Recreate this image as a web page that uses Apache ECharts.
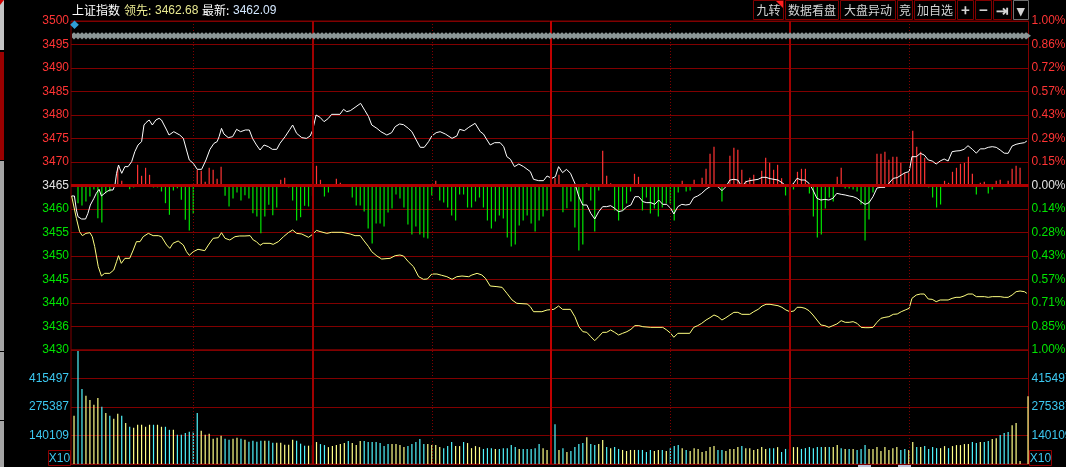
<!DOCTYPE html>
<html>
<head>
<meta charset="utf-8">
<title>上证指数 分时</title>
<script src="https://cdn.jsdelivr.net/npm/echarts@6/dist/echarts.min.js"></script>
<style>
  html, body { margin: 0; padding: 0; background: #000; }
  #chart { width: 1066px; height: 467px; }
</style>
</head>
<body>
<div id="chart"></div>
<script>
// ---- data ----
const indexName = '上证指数';
const leadPrice = '3462.68';
const lastPrice = '3462.09';
const baseLevel = 3465;
const priceMin = 3430, priceMax = 3500, priceStep = 5;
const priceTicks = ['3500', '3495', '3490', '3485', '3480', '3475', '3470', '3465', '3460', '3455', '3450', '3445', '3440', '3436', '3430'];
const pctTicks = ['1.00%', '0.86%', '0.72%', '0.57%', '0.43%', '0.29%', '0.15%', '0.00%', '0.14%', '0.28%', '0.43%', '0.57%', '0.71%', '0.85%', '1.00%'];
const volMax = 560.436, volStep = 140.109; // thousands
const volTicks = ['', '140109', '275387', '415497', ''];
const hourMarks = [60, 120, 180];
const halfHourMarks = [30, 90, 150, 210];

// white line: [minute, price]
const indexLine = [[-0.6,3462.77],[0.1,3462.77],[0.6,3459.79],[1.0,3458.37],[1.9,3457.87],[2.9,3457.87],[3.5,3459.08],[4.1,3460.85],[5.0,3462.27],[5.6,3463.33],[6.3,3464.19],[6.9,3462.77],[7.3,3462.48],[8.2,3463.69],[9.0,3464.04],[9.8,3464.04],[10.3,3465.11],[10.7,3467.59],[11.2,3469.36],[11.5,3468.65],[12.0,3467.59],[12.8,3469.01],[13.6,3469.01],[14.5,3470.07],[15.3,3472.2],[16.1,3473.62],[17.0,3474.33],[17.6,3477.87],[18.1,3478.37],[18.9,3478.94],[19.7,3477.87],[20.6,3478.94],[21.4,3479.29],[22.0,3478.94],[23.3,3476.81],[23.9,3475.74],[25.1,3476.45],[26.6,3475.74],[27.5,3475.03],[28.3,3472.55],[29.0,3470.43],[30.0,3469.72],[31.0,3468.44],[32.1,3468.44],[33.2,3470.43],[34.2,3472.69],[35.2,3473.96],[36.0,3474.33],[36.5,3475.39],[37.1,3477.16],[37.7,3475.96],[38.8,3475.18],[39.9,3475.39],[40.9,3476.95],[41.9,3476.45],[43.1,3476.81],[44.1,3476.81],[44.9,3475.03],[45.9,3473.62],[46.8,3472.55],[47.8,3473.62],[48.9,3473.26],[49.9,3472.69],[51.0,3472.69],[51.8,3473.96],[53.1,3475.39],[54.3,3476.95],[55.0,3477.87],[56.0,3476.1],[57.3,3475.18],[58.5,3475.03],[59.4,3475.53],[60.0,3476.67],[60.9,3480.0],[61.9,3479.5],[62.9,3478.58],[64.0,3479.29],[64.8,3480.14],[66.9,3480.14],[67.8,3481.21],[68.6,3480.71],[69.5,3480.92],[70.7,3481.63],[72.1,3482.48],[73.2,3480.92],[74.1,3479.64],[74.9,3477.87],[76.2,3477.16],[77.2,3476.45],[78.7,3475.74],[79.9,3476.24],[80.8,3477.52],[81.9,3478.09],[82.9,3477.94],[84.1,3477.16],[85.0,3476.45],[86.1,3474.68],[87.1,3473.12],[88.1,3473.12],[89.2,3474.33],[90.0,3475.53],[91.1,3476.24],[92.1,3476.45],[93.4,3475.96],[95.1,3475.03],[96.3,3475.53],[97.0,3476.95],[98.2,3476.67],[99.3,3477.38],[100.9,3478.23],[102.2,3476.45],[103.0,3475.96],[103.9,3474.68],[104.7,3473.62],[105.8,3474.11],[107.2,3474.11],[108.1,3473.26],[108.9,3471.13],[109.8,3470.57],[110.8,3469.01],[111.9,3469.57],[113.1,3469.01],[114.8,3467.95],[115.6,3466.31],[116.9,3466.03],[118.1,3466.03],[119.0,3467.02],[120.2,3466.53],[121.1,3466.88],[121.9,3469.01],[122.9,3467.73],[123.9,3468.44],[124.9,3467.59],[126.0,3465.46],[127.0,3462.62],[128.0,3460.85],[129.0,3460.85],[130.0,3459.08],[131.0,3457.87],[132.0,3459.43],[133.0,3460.5],[134.0,3460.5],[135.0,3460.71],[136.0,3460.14],[137.0,3459.43],[138.0,3459.64],[139.1,3460.5],[140.1,3460.85],[141.1,3462.62],[142.1,3462.62],[143.1,3461.56],[144.1,3461.35],[145.1,3461.35],[146.1,3460.99],[147.1,3461.91],[148.1,3460.99],[149.1,3460.99],[150.1,3460.14],[150.9,3458.94],[151.9,3460.5],[152.9,3460.99],[153.9,3460.85],[154.9,3460.99],[155.9,3462.41],[156.9,3462.77],[157.9,3463.33],[159.0,3464.19],[160.0,3464.75],[161.0,3464.89],[162.0,3464.75],[163.0,3463.9],[164.0,3464.75],[165.0,3466.17],[166.0,3466.31],[167.0,3466.17],[168.0,3464.75],[169.0,3465.81],[170.0,3466.03],[171.0,3466.17],[172.1,3466.31],[173.1,3466.74],[174.1,3466.74],[175.1,3466.45],[176.1,3466.31],[177.1,3466.17],[178.1,3465.6],[179.1,3464.96],[180.1,3464.96],[180.9,3465.32],[181.9,3466.53],[182.9,3466.17],[183.9,3466.17],[184.9,3465.46],[185.9,3464.04],[186.9,3462.27],[187.9,3461.91],[188.9,3462.05],[189.9,3461.91],[190.9,3462.27],[191.9,3463.33],[193.0,3463.12],[194.0,3462.98],[195.0,3462.77],[196.0,3462.62],[197.0,3462.27],[198.0,3461.56],[199.0,3460.99],[200.0,3461.35],[201.0,3462.62],[202.0,3464.47],[203.0,3464.61],[204.0,3464.61],[205.0,3465.46],[206.1,3466.53],[207.1,3466.67],[208.1,3467.23],[209.1,3467.73],[210.1,3467.95],[210.8,3471.13],[211.9,3471.13],[212.9,3471.84],[213.9,3471.49],[214.9,3470.43],[215.9,3470.21],[216.9,3469.57],[217.9,3470.21],[218.9,3470.64],[219.9,3470.21],[220.9,3472.2],[221.9,3472.34],[222.9,3472.41],[223.9,3472.69],[224.9,3473.47],[226.0,3472.69],[227.0,3471.88],[228.0,3472.8],[229.0,3472.8],[230.0,3473.12],[231.0,3473.26],[232.0,3473.12],[233.0,3472.55],[234.0,3471.88],[235.0,3471.84],[236.0,3473.4],[237.0,3473.76],[238.0,3473.96],[239.1,3474.11],[239.7,3474.47]];

// yellow line: [minute, price]
const leadLine = [[-0.6,3462.77],[0.6,3458.01],[1.4,3455.18],[2.1,3454.33],[3.0,3454.82],[4.0,3454.96],[4.6,3454.11],[5.2,3451.99],[6.1,3447.73],[6.9,3445.74],[7.7,3446.31],[9.0,3446.31],[10.0,3447.02],[10.7,3448.79],[11.2,3450.07],[11.9,3448.44],[12.8,3449.5],[14.0,3449.5],[14.9,3451.28],[15.7,3453.05],[16.6,3453.05],[17.4,3454.11],[18.7,3454.82],[19.9,3454.33],[21.2,3454.33],[22.0,3454.11],[23.3,3452.34],[24.1,3451.63],[24.9,3452.7],[26.2,3453.19],[27.5,3452.34],[28.3,3450.92],[29.0,3450.14],[30.0,3450.92],[31.2,3451.42],[32.9,3451.14],[33.8,3452.34],[35.0,3453.76],[36.3,3453.9],[37.1,3454.96],[38.0,3453.76],[39.2,3453.4],[40.5,3454.11],[41.7,3454.26],[43.0,3454.26],[44.3,3454.33],[45.1,3453.4],[45.9,3453.05],[46.8,3452.27],[47.6,3452.7],[49.3,3452.7],[50.1,3452.48],[51.4,3453.05],[52.7,3454.11],[53.9,3454.96],[55.0,3455.53],[56.0,3454.82],[57.3,3454.68],[59.0,3453.97],[60.0,3454.6],[61.0,3455.45],[61.9,3455.2],[62.3,3454.96],[63.6,3454.82],[64.8,3455.04],[67.4,3455.04],[69.5,3454.68],[70.7,3454.33],[72.0,3454.33],[72.8,3453.4],[74.1,3451.99],[74.9,3450.92],[76.2,3450.0],[77.4,3449.36],[79.5,3449.5],[80.8,3450.07],[82.0,3450.21],[82.9,3450.0],[84.1,3448.79],[85.4,3447.73],[86.7,3445.6],[87.9,3445.04],[88.9,3445.11],[90.0,3446.17],[91.3,3446.17],[92.5,3445.89],[93.8,3445.6],[95.1,3445.04],[96.3,3445.6],[97.6,3445.74],[99.3,3445.6],[100.1,3445.96],[101.4,3446.31],[102.6,3445.96],[103.5,3445.25],[104.7,3443.62],[106.4,3443.48],[107.7,3443.33],[108.9,3442.06],[110.2,3440.64],[111.4,3439.93],[114.0,3439.79],[114.8,3439.22],[115.6,3438.15],[117.7,3438.15],[119.0,3438.51],[120.7,3438.65],[121.9,3439.36],[122.9,3438.65],[124.9,3438.65],[126.0,3437.09],[127.0,3434.96],[128.0,3433.9],[129.0,3433.76],[130.0,3432.84],[131.0,3431.99],[132.0,3432.84],[133.0,3433.76],[134.0,3433.76],[135.0,3434.26],[136.0,3433.76],[137.0,3433.19],[138.0,3433.55],[139.1,3433.9],[140.1,3434.4],[141.1,3435.18],[142.1,3435.18],[143.1,3434.96],[145.1,3434.82],[148.1,3434.82],[149.1,3434.26],[150.1,3433.55],[150.9,3432.7],[151.9,3433.55],[154.9,3433.55],[155.9,3434.82],[156.9,3435.18],[157.9,3435.67],[159.0,3436.38],[160.0,3436.88],[161.0,3437.45],[162.0,3437.09],[163.0,3436.38],[164.0,3436.88],[165.0,3437.45],[166.0,3438.01],[167.0,3438.01],[168.0,3437.59],[170.0,3437.59],[171.0,3438.15],[172.1,3438.65],[173.1,3439.36],[174.1,3439.72],[175.1,3439.72],[176.1,3439.57],[177.1,3439.43],[178.1,3439.08],[179.1,3438.51],[180.1,3438.15],[181.1,3438.3],[181.9,3439.08],[182.9,3439.08],[183.9,3438.87],[184.9,3438.37],[185.9,3437.45],[186.9,3436.38],[187.9,3435.32],[188.9,3435.18],[189.9,3434.82],[190.9,3435.18],[191.9,3435.53],[193.0,3436.24],[194.0,3435.89],[195.0,3435.89],[196.0,3436.03],[197.0,3435.67],[198.0,3434.82],[199.0,3434.75],[200.0,3434.75],[201.0,3434.82],[202.0,3435.89],[203.0,3436.74],[204.0,3436.95],[205.0,3437.09],[206.1,3437.59],[207.1,3437.66],[208.1,3438.15],[209.1,3438.51],[210.1,3438.87],[210.8,3440.99],[211.9,3441.7],[212.9,3441.91],[213.9,3441.91],[214.9,3440.85],[215.9,3440.78],[216.9,3440.28],[217.9,3440.64],[219.9,3440.64],[220.9,3440.99],[221.9,3441.21],[222.9,3441.21],[223.9,3441.49],[224.9,3441.91],[226.0,3441.91],[227.0,3441.35],[229.0,3441.35],[230.0,3441.21],[231.0,3441.35],[233.0,3441.35],[234.0,3441.21],[235.0,3441.21],[236.0,3441.7],[237.0,3442.41],[238.0,3442.55],[239.1,3442.41],[239.7,3442.06]];

// red / green strength bars, one per minute (0..240)
const breadth = [
  0,-17.7,-20,-16,-11,-4,-32.7,-37,-7.7,-6,
  0,18,4.7,1.3,-3.7,-2,20.7,9.7,17.7,10.7,
  -2,-2,-6,-17.7,-29.3,-5,-2.7,-14.3,-34.3,-45,
  -28.3,15.7,14.7,3.7,17.7,15.7,6.7,18.7,-10.3,-21,
  -13,-7,-15,-9.7,-13,-27.7,-31,-47.7,-31,-19.3,
  -29.7,-22,5.7,7.7,-2,-15,-35,-31.7,-20.3,-21,
  -10.3,19.7,5.7,-11,-7,-1,6.7,2.7,-1,1.3,
  -12,-20,-20,-26,-43,-58,-38,-38,-41,-27,
  -23,-9,-13,-22,-39,-49,-41,-49,-52,-53,
  -10,4.7,-15,-17,-22,-30,-35,-9,-9,-22,
  -22,-16,-12,-22,-35,-43,-36,-30,-33,-52,
  -61,-59,-40,-35,-30,-38,-46,-35,-31,-25,
  0,7.5,10.7,-26.7,-22.7,-16,-42,-65,-59,2.3,
  -15,-46,-5,34.7,9.7,2.3,-25,-35,-25,-18,
  -6,11.7,8.7,-25,-12,-28,-23,-31,-22,-18,
  -18,-35,-7,4.7,-6,-5,5.7,-1,7.7,16.7,
  31.7,38.7,0,-16,0,29.7,37.7,35.7,15.7,4.7,
  7.7,10.7,-1,14.7,27.7,22.7,15.7,20.7,7.3,-10,
  -30,-4,13.7,16.7,16.7,-8,-31,-52,-49,-23,
  -12,-16,8.7,17.7,-3,-3,-4,-6,-19,-55,
  -34,-7,31.7,31.7,33.7,25.7,28.7,28.7,22.7,12.7,
  12.7,54.7,38.7,33.7,27.7,-2,-12,-22,-19,4.7,
  2.7,13.7,17.7,21.7,22.7,28.7,11.7,-9,2.7,3.7,
  -8,-4,4.7,5.7,-1,4.7,16.7,19.7,17.7,0,
  0
];

// volume per minute, thousands
const volume = [
  237,556,369,335,315,291,325,281,251,237,222,247,237,202,183,178,193,193,183,193,
  193,193,183,183,168,168,144,144,153,158,158,251,163,144,149,124,129,139,124,119,
  124,129,124,119,109,114,109,114,114,114,104,104,104,95,95,119,114,100,90,90,
  93,108,98,93,83,88,93,98,103,113,103,93,113,113,108,108,108,103,88,98,
  98,98,93,83,88,98,108,123,98,98,93,93,83,78,88,108,88,88,108,103,
  78,88,83,74,78,78,74,74,78,78,93,83,74,74,74,74,78,98,78,69,
  69,
  196,69,78,59,64,83,98,103,132,98,93,98,118,83,78,83,74,69,64,69,
  69,69,69,59,69,64,69,69,64,78,88,93,78,69,64,78,74,59,64,83,
  88,69,69,64,74,74,83,88,78,78,69,74,83,74,78,78,83,59,74,74,
  83,83,74,78,83,78,83,83,83,83,83,93,78,74,74,
  74,69,74,93,74,74,83,64,83,69,78,83,69,74,69,108,83,83,88,74,83,78,78,88,78,88,93,93,98,98,
  108,103,108,108,113,123,127,142,152,157,191,201,15,0,333
];
// Y = up (yellow), C = down (cyan)
const volDir = (
  'YCCYYYYCYCYYCYCYYYYYCYYCCYCCCCCCYYYYYYCCYYCYCCCCYCCYYYYYCCCY' +
  'YYCCYYYYYCYYYCCCCCCCYYYYCCCCCYYYYCCCYYCYYYYCCCYCCCCCYCCCCCYYC' +
  'CYCYCCCCYCCYYCYCCYYYYCCCCYYCYCCCYCYYYYYYYCCYYYYCYYYYYYCCYCCC' +
  'YYCCCCCCYCYYCYCYCCCYYYYYYYYCCYYCYCCCCYYCYYYYYCCYCCYYCCCYYYYY'
).split('');

// ---- chart ----
const RED = '#ff3434', GREEN = '#00e400', WHITE = '#e4e4e4';
const GRID = '#800000', GRID_HI = '#b00000';
const CYAN_TXT = '#3cc8f0';
const xMin = -0.76, xMax = 240.12;
const FONT = 'Liberation Sans, Arial, sans-serif';
const CJK = '"Noto Sans CJK SC", sans-serif';

const chart = echarts.init(document.getElementById('chart'), null, { renderer: 'canvas' });

function levelColor(v) {
  if (v > baseLevel + 0.01) return RED;
  if (v < baseLevel - 0.01) return GREEN;
  return WHITE;
}

// header graphics
const buttons = [
  ['九转', 753, 30], ['数据看盘', 785, 53], ['大盘异动', 840, 55], ['竞', 897, 15],
  ['加自选', 914, 41], ['+', 957, 16], ['−', 975, 16], ['⇥', 993, 18], ['▾', 1013, 15],
];
const graphics = [];
function txt(text, x, y, fill, font, align) {
  graphics.push({
    type: 'text', silent: true, z: 100,
    style: { text, x, y, fill, font, textAlign: align || 'left', align: align || 'left', textVerticalAlign: 'middle', verticalAlign: 'middle' },
  });
}
txt(indexName, 72, 10.5, '#ffffff', '12px ' + CJK);
txt('领先:', 124, 10.5, '#e8e890', '12px ' + CJK);
txt(leadPrice, 155, 10.5, '#e8e890', '12px ' + FONT);
txt('最新:', 202, 10.5, '#ffffff', '12px ' + CJK);
txt(lastPrice, 233, 10.5, '#d4e8ff', '12px ' + FONT);
buttons.forEach(([label, x, w], k) => {
  graphics.push({
    type: 'rect', silent: true, z: 99,
    shape: { x: x + 0.5, y: 0.5, width: w, height: 19 },
    style: { fill: '#000', stroke: k === buttons.length - 1 ? '#707070' : GRID, lineWidth: 1 },
  });
  const big = label === '+' || label === '−' || label === '⇥' || label === '▾';
  txt(label, x + w / 2 + 0.5, 10.5, '#d4d4d4', (big ? 'bold 15px ' : '12px ') + CJK, 'center');
});
graphics.push({ type: 'polygon', silent: true, z: 101, shape: { points: [[776, 1], [783, 1], [783, 8]] }, style: { fill: '#ff2020' } });

// signal band (row of small diamonds)
const bandPts = [];
for (let x = 72; x <= 1024; x += 4) bandPts.push([x, 34], [x + 2, 32.2]);
bandPts.push([1031, 35.8]);
for (let x = 1024; x >= 72; x -= 4) bandPts.push([x + 2, 39.4], [x, 37.6]);
graphics.push({ type: 'polygon', silent: true, z: 50, shape: { points: bandPts }, style: { fill: '#8c9696' } });
graphics.push({ type: 'polygon', silent: true, z: 51, shape: { points: [[74.5, 20.5], [78.8, 24.8], [74.5, 29.1], [70.2, 24.8]] }, style: { fill: '#2f9ed6' } });

// X10 boxes
[48.5, 1029.5].forEach((x) => {
  graphics.push({ type: 'rect', silent: true, z: 60, shape: { x, y: 450.5, width: 22, height: 15 }, style: { fill: 'none', stroke: '#900000', lineWidth: 1 } });
  txt('X10', x + 11, 458.5, CYAN_TXT, '12px ' + FONT, 'center');
});

// left edge strip and bottom tabs
graphics.push({ type: 'rect', silent: true, z: 1, shape: { x: 0, y: 0, width: 4, height: 50 }, style: { fill: '#c4c4c4' } });
graphics.push({ type: 'polygon', silent: true, z: 2, shape: { points: [[0, 0], [4, 0], [0, 5]] }, style: { fill: '#d00000' } });
graphics.push({ type: 'rect', silent: true, z: 1, shape: { x: 0, y: 52, width: 4, height: 108 }, style: { fill: '#9a0000' } });
graphics.push({ type: 'rect', silent: true, z: 1, shape: { x: 0, y: 161, width: 4, height: 306 }, style: { fill: '#a4a4a4' } });
graphics.push({ type: 'rect', silent: true, z: 1, shape: { x: 0, y: 351, width: 6, height: 1 }, style: { fill: '#000' } });
graphics.push({ type: 'rect', silent: true, z: 1, shape: { x: 0, y: 420, width: 6, height: 1 }, style: { fill: '#000' } });
graphics.push({ type: 'rect', silent: true, z: 60, shape: { x: 858, y: 465, width: 13, height: 2 }, style: { fill: '#b8c2d8' } });
graphics.push({ type: 'rect', silent: true, z: 60, shape: { x: 898, y: 465, width: 13, height: 2 }, style: { fill: '#b8c2d8' } });

const option = {
  backgroundColor: '#000',
  animation: false,
  textStyle: { fontFamily: FONT },
  grid: [
    { left: 71, top: 21, width: 957.5, height: 329, show: true, borderColor: GRID, borderWidth: 1, backgroundColor: 'transparent', outerBoundsMode: 'none' },
    { left: 71, top: 350, width: 957.5, height: 114, show: true, borderColor: GRID, borderWidth: 1, backgroundColor: 'transparent', outerBoundsMode: 'none' },
  ],
  xAxis: [
    { type: 'value', gridIndex: 0, min: xMin, max: xMax, show: false, splitLine: { show: false } },
    { type: 'value', gridIndex: 1, min: xMin, max: xMax, show: false, splitLine: { show: false } },
  ],
  yAxis: [
    {
      type: 'value', gridIndex: 0, position: 'left', min: priceMin, max: priceMax, interval: priceStep,
      axisLine: { show: false }, axisTick: { show: false },
      splitLine: { show: true, lineStyle: { color: GRID, width: 1 } },
      axisLabel: {
        margin: 2, fontSize: 12, fontFamily: FONT, showMinLabel: true, showMaxLabel: true,
        formatter: (v) => priceTicks[Math.round((priceMax - v) / priceStep)],
        color: (v) => levelColor(v),
      },
    },
    {
      type: 'value', gridIndex: 0, position: 'right', min: priceMin, max: priceMax, interval: priceStep,
      axisLine: { show: false }, axisTick: { show: false }, splitLine: { show: false },
      axisLabel: {
        margin: 3, fontSize: 12, fontFamily: FONT, showMinLabel: true, showMaxLabel: true,
        formatter: (v) => pctTicks[Math.round((priceMax - v) / priceStep)],
        color: (v) => levelColor(v),
      },
    },
    { type: 'value', gridIndex: 0, min: -164.5, max: 164.5, show: false, splitLine: { show: false } },
    {
      type: 'value', gridIndex: 1, position: 'left', min: 0, max: volMax, interval: volStep,
      axisLine: { show: false }, axisTick: { show: false },
      splitLine: { show: true, lineStyle: { color: GRID, width: 1 } },
      axisLabel: {
        margin: 2, fontSize: 12, fontFamily: FONT, color: CYAN_TXT,
        formatter: (v) => volTicks[Math.round(v / volStep)] || '',
      },
    },
    {
      type: 'value', gridIndex: 1, position: 'right', min: 0, max: volMax, interval: volStep,
      axisLine: { show: false }, axisTick: { show: false }, splitLine: { show: false },
      axisLabel: {
        margin: 3, fontSize: 12, fontFamily: FONT, color: CYAN_TXT,
        formatter: (v) => volTicks[Math.round(v / volStep)] || '',
      },
    },
  ],
  series: [
    {
      name: 'strength', type: 'bar', xAxisIndex: 0, yAxisIndex: 2, z: 2,
      barWidth: 1.2,
      data: breadth.map((v, i) => [i, v]),
      itemStyle: { color: (p) => (p.value[1] >= 0 ? RED : GREEN) },
    },
    {
      name: 'lead', type: 'line', xAxisIndex: 0, yAxisIndex: 0, z: 3,
      data: leadLine, showSymbol: false, symbol: 'none',
      lineStyle: { color: '#ffff80', width: 1 },
      markLine: {
        silent: true, symbol: ['none', 'none'], label: { show: false }, emphasis: { disabled: true }, animation: false,
        lineStyle: { color: GRID_HI, width: 3, type: 'solid' },
        data: [{ yAxis: baseLevel }],
      },
    },
    {
      name: 'index', type: 'line', xAxisIndex: 0, yAxisIndex: 0, z: 4,
      data: indexLine, showSymbol: false, symbol: 'none',
      lineStyle: { color: '#ffffff', width: 1 },
    },
    {
      name: 'volume', type: 'bar', xAxisIndex: 1, yAxisIndex: 3, z: 2,
      barWidth: 1.2,
      data: volume.map((v, i) => [i, v]),
      itemStyle: { color: (p) => (volDir[p.dataIndex] === 'Y' ? '#ffff88' : '#50f4fc') },
    },
  ],
};

chart.setOption(option);

// time guides: positions come from the chart's own x scale, drawn as 1px filled strips
const yTop = Math.round(chart.convertToPixel({ yAxisIndex: 0 }, priceMax));
const yBottom = Math.round(chart.convertToPixel({ yAxisIndex: 3 }, 0));
function guide(m, solid) {
  const x = Math.round(chart.convertToPixel({ xAxisIndex: 0 }, m)) - 1;
  const w = solid ? 2 : 1;
  if (solid) {
    graphics.push({ type: 'rect', silent: true, z: 5, shape: { x, y: yTop, width: w, height: yBottom - yTop }, style: { fill: m === 120 ? '#c00000' : '#a00000' } });
  } else {
    for (let y = yTop; y < yBottom; y += 3) {
      graphics.push({ type: 'rect', silent: true, z: 5, shape: { x: x + 1, y, width: 1, height: 1 }, style: { fill: GRID } });
    }
  }
}
hourMarks.forEach((m) => guide(m, true));
halfHourMarks.forEach((m) => guide(m, false));

chart.setOption({ graphic: { elements: graphics } });
</script>
</body>
</html>
